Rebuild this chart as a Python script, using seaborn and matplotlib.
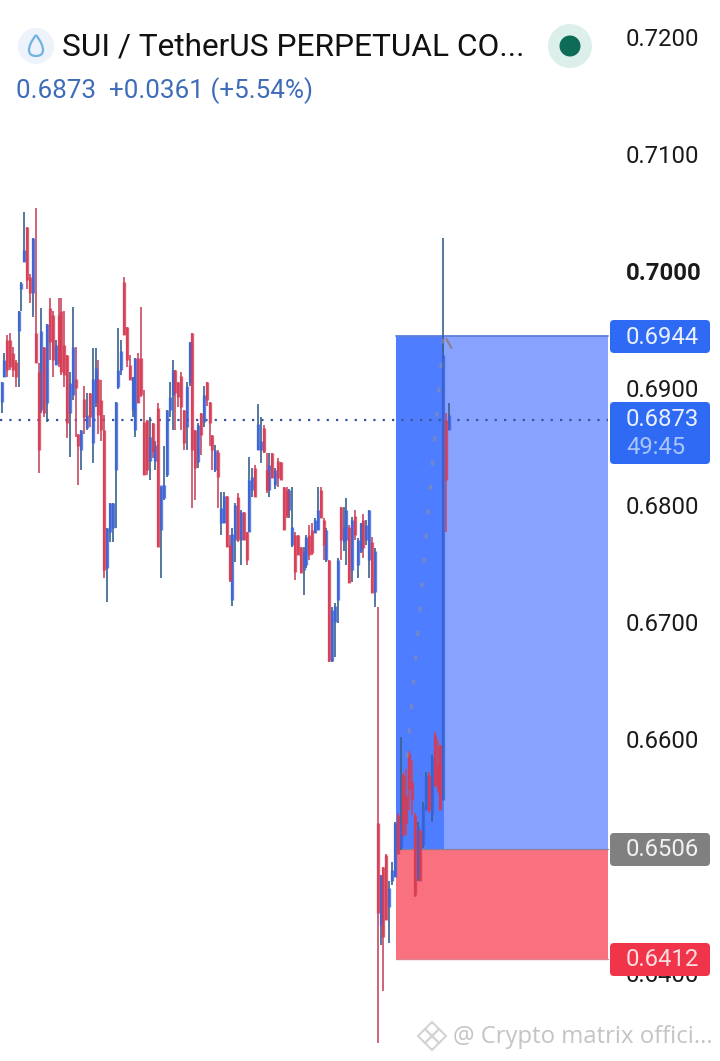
import numpy as np
import pandas as pd
import matplotlib
matplotlib.use("Agg")
import matplotlib.pyplot as plt
import seaborn as sns
from matplotlib.patches import Rectangle, FancyBboxPatch, Circle, PathPatch, Polygon
from matplotlib.path import Path
from matplotlib.transforms import Affine2D

# ---------- data ----------
high = [.6905,.6930,.6945,.6947,.6935,.6924,.6966,.6991,.7050,.7038,
        .6997,.7028,.7054,.6921,.6968,.6935,.6955,.6977,.6966,.6941,
        .6977,.6977,.6966,.6928,.6914,.6969,.6935,.6861,.6864,.6902,
        .6896,.6896,.6934,.6934,.6924,.6907,.6877,.6780,.6802,.6802,
        .6888,.6951,.6941,.6995,.6952,.6928,.6909,.6926,.6930,.6969,
        .6898,.6873,.6875,.6870,.6855,.6887,.6815,.6850,.6881,.6905,
        .6924,.6915,.6905,.6914,.6881,.6905,.6939,.6947,.6864,.6870,
        .6879,.6902,.6905,.6888,.6860,.6851,.6847,.6811,.6811,.6808,
        .6774,.6780,.6802,.6810,.6796,.6794,.6777,.6841,.6832,.6834,
        .6886,.6875,.6868,.6844,.6844,.6844,.6832,.6840,.6837,.6815,
        .6815,.6814,.6815,.6777,.6774,.6764,.6764,.6774,.6783,.6785,
        .6789,.6815,.6815,.6789,.6780,.6753,.6713,.6716,.6755,.6798,
        .6798,.6806,.6783,.6790,.6796,.6772,.6785,.6792,.6787,.6796,
        .6773,.6763,.6713,.6484,.6491,.6502,.6479,.6495,.6529,.6537,
        .6602,.6571,.6574,.6590,.6582,.6537,.6529,.6522,.6546,.6572,
        .6572,.6586,.6606,.6599,.6595,.7028,.6879,.6887]
low = [.6879,.6909,.6909,.6915,.6909,.6901,.6901,.6966,.7008,.6985,
       .6973,.6961,.6921,.6827,.6879,.6875,.6871,.6924,.6909,.6920,
       .6918,.6911,.6901,.6857,.6841,.6890,.6858,.6817,.6830,.6861,
       .6864,.6867,.6836,.6884,.6861,.6855,.6738,.6717,.6768,.6768,
       .6780,.6899,.6911,.6945,.6918,.6907,.6875,.6858,.6887,.6892,
       .6826,.6826,.6821,.6840,.6830,.6764,.6738,.6804,.6824,.6875,
       .6864,.6864,.6884,.6864,.6847,.6847,.6902,.6797,.6804,.6832,
       .6843,.6867,.6885,.6850,.6830,.6828,.6797,.6774,.6785,.6764,
       .6734,.6714,.6751,.6768,.6749,.6770,.6749,.6777,.6807,.6807,
       .6847,.6836,.6844,.6810,.6807,.6823,.6814,.6815,.6821,.6779,
       .6789,.6789,.6764,.6736,.6757,.6742,.6723,.6746,.6753,.6757,
       .6776,.6779,.6789,.6753,.6751,.6666,.6666,.6670,.6699,.6753,
       .6761,.6749,.6733,.6734,.6770,.6738,.6759,.6755,.6766,.6738,
       .6725,.6713,.6340,.6424,.6385,.6445,.6426,.6475,.6482,.6502,
       .6505,.6516,.6518,.6539,.6535,.6465,.6479,.6479,.6507,.6539,
       .6537,.6529,.6559,.6554,.6539,.6548,.6777,.6864]
open_ = [.6888,.6909,.6941,.6941,.6930,.6922,.6949,.6985,.7008,.7038,
         .6995,.6981,.6947,.6914,.6881,.6935,.6887,.6968,.6962,.6920,
         .6962,.6966,.6937,.6928,.6879,.6894,.6908,.6861,.6847,.6891,
         .6866,.6896,.6853,.6887,.6908,.6890,.6864,.6746,.6777,.6780,
         .6830,.6901,.6915,.6991,.6952,.6920,.6881,.6864,.6926,.6926,
         .6871,.6873,.6838,.6870,.6838,.6883,.6779,.6806,.6826,.6881,
         .6894,.6915,.6905,.6910,.6881,.6867,.6904,.6947,.6864,.6837,
         .6879,.6871,.6905,.6888,.6860,.6830,.6845,.6785,.6785,.6808,
         .6766,.6719,.6770,.6807,.6770,.6794,.6777,.6777,.6813,.6832,
         .6847,.6847,.6866,.6830,.6813,.6844,.6817,.6838,.6837,.6815,
         .6813,.6796,.6766,.6774,.6774,.6764,.6744,.6749,.6774,.6779,
         .6776,.6779,.6813,.6787,.6753,.6753,.6667,.6700,.6719,.6798,
         .6768,.6770,.6781,.6744,.6791,.6749,.6761,.6787,.6770,.6753,
         .6768,.6726,.6528,.6441,.6491,.6501,.6456,.6479,.6482,.6535,
         .6508,.6569,.6552,.6588,.6563,.6535,.6481,.6522,.6509,.6539,
         .6569,.6535,.6603,.6578,.6595,.6548,.6873,.6864]
close = [.6905,.6924,.6915,.6918,.6915,.6909,.6966,.6990,.7018,.6992,
         .6981,.7028,.6921,.6847,.6949,.6879,.6955,.6939,.6924,.6937,
         .6921,.6914,.6911,.6870,.6904,.6935,.6900,.6850,.6864,.6875,
         .6877,.6875,.6908,.6917,.6877,.6864,.6744,.6780,.6802,.6802,
         .6888,.6915,.6932,.6945,.6924,.6907,.6909,.6926,.6887,.6894,
         .6826,.6830,.6858,.6845,.6851,.6764,.6817,.6817,.6881,.6892,
         .6915,.6896,.6892,.6884,.6853,.6902,.6939,.6847,.6832,.6868,
         .6860,.6894,.6890,.6870,.6847,.6847,.6824,.6797,.6808,.6764,
         .6736,.6775,.6800,.6770,.6794,.6770,.6753,.6821,.6824,.6807,
         .6869,.6855,.6845,.6813,.6834,.6823,.6830,.6823,.6821,.6779,
         .6791,.6813,.6781,.6743,.6757,.6742,.6761,.6773,.6757,.6759,
         .6787,.6796,.6789,.6766,.6779,.6667,.6710,.6714,.6753,.6770,
         .6781,.6796,.6733,.6787,.6774,.6770,.6785,.6763,.6783,.6796,
         .6725,.6761,.6451,.6484,.6431,.6445,.6473,.6488,.6528,.6502,
         .6528,.6518,.6528,.6557,.6548,.6467,.6526,.6479,.6543,.6569,
         .6539,.6584,.6561,.6557,.6539,.6928,.6821,.6877]

y_ticks = [0.72, 0.71, 0.70, 0.69, 0.68, 0.67, 0.66, 0.64]
y_labels = ["0.7200", "0.7100", "0.7000", "0.6900", "0.6800", "0.6700", "0.6600", "0.6400"]
last_price, target_price, entry_price, stop_price = 0.6873, 0.6944, 0.6506, 0.6412
tool_start, tool_mid, tool_end = 138.4, 155.2, 212.8
path_x = [142.3, 155.3]
path_y = [0.6584, 0.6950]
head_x = [156.1, 157.9]
head_y = [0.6942, 0.6934]

title = "SUI / TetherUS PERPETUAL CO..."
subtitle = "0.6873  +0.0361 (+5.54%)"
timer = "49:45"
watermark = "@ Crypto matrix offici..."

# ---------- frame ----------
W, H = 720, 1061
sns.set_theme(style="white")
plt.rcParams["font.family"] = ["Roboto", "DejaVu Sans"]
fig = plt.figure(figsize=(W / 100, H / 100), dpi=100, facecolor="white")
ax = fig.add_axes([0, 0, 1, 1])
ax.set_xlim(-1.5 / 2.85, (W - 1.5) / 2.85)
ax.set_ylim(0.72316 - H / 11700, 0.72316)
for s in ax.spines.values():
    s.set_visible(False)
ax.set_xticks([])

# pixel helper for furniture that is not data (y measured from the top)
px = Affine2D().scale(1 / W, -1 / H).translate(0, 1) + ax.transAxes

# ---------- position tool ----------
ax.add_patch(Rectangle((tool_start, entry_price), tool_mid - tool_start, target_price - entry_price,
                       fc="#4f7dff", ec="none", zorder=1))
ax.add_patch(Rectangle((tool_mid, entry_price), tool_end - tool_mid, target_price - entry_price,
                       fc="#87a3ff", ec="none", zorder=1))
ax.add_patch(Rectangle((tool_start, stop_price), tool_end - tool_start, entry_price - stop_price,
                       fc="#f9707f", ec="none", zorder=1))
ax.plot([tool_start, tool_end], [target_price] * 2, color="#5f80d8", lw=1.3, zorder=1.2)
ax.plot([tool_start, tool_end], [stop_price] * 2, color="#e2808c", lw=1, zorder=1.2)
ax.plot([tool_start, tool_end], [entry_price] * 2, color="#8a7f9a", lw=0.9, zorder=1.2)

# last price line
ax.plot([ax.get_xlim()[0], tool_end], [last_price] * 2, color="#35569c", lw=1.6,
        ls=(0, (1, 3.2)), zorder=1.5)

# ---------- candles ----------
n = len(high)
idx = np.arange(n)
direction = np.where(np.array(close) >= np.array(open_), "up", "down")
wicks = pd.DataFrame({
    "candle": np.r_[idx, idx],
    "price": np.r_[high, low],
    "dir": np.r_[direction, direction],
})
bodies = pd.DataFrame({
    "candle": np.r_[idx, idx],
    "price": np.r_[open_, close],
    "dir": np.r_[direction, direction],
})
sns.lineplot(data=wicks, x="candle", y="price", hue="dir", units="candle", estimator=None,
             palette={"up": "#35608e", "down": "#c9465f"}, lw=1.25, alpha=0.95, legend=False,
             ax=ax, zorder=3, solid_capstyle="butt")
sns.lineplot(data=bodies, x="candle", y="price", hue="dir", units="candle", estimator=None,
             palette={"up": "#3a62dc", "down": "#d63a52"}, lw=2.4, alpha=0.8, legend=False,
             ax=ax, zorder=3.2, solid_capstyle="butt")
ax.set_xlabel("")
ax.set_ylabel("")

# projected path
ax.plot(path_x, path_y, color="#8f8f9f", alpha=0.6, lw=2.2, ls=(0, (1.6, 6.4)), zorder=3.5)
ax.plot(head_x, head_y, color="#8c7b88", lw=1.6, alpha=0.9, zorder=3.5)

# ---------- price axis ----------
ax.yaxis.tick_right()
ax.set_yticks(y_ticks)
ax.set_yticklabels(y_labels)
ax.tick_params(axis="y", length=0, pad=-67.7, labelsize=17.2, labelcolor="#1a1a1a")
for lab in ax.get_yticklabels():
    lab.set_ha("left")
    if lab.get_text() == "0.7000":
        lab.set_fontweight("bold")

def badge(top, bottom, color):
    ax.add_patch(FancyBboxPatch((610, top), 100, bottom - top,
                                boxstyle="round,pad=0,rounding_size=4", mutation_aspect=1,
                                fc=color, ec="none", transform=px, zorder=6, clip_on=False))

badge(320, 353, "#2f6af5")
badge(402, 464, "#2f6af5")
badge(833, 866, "#808080")
badge(943, 976, "#f0344a")
for y_px, txt, col in [(337, "0.6944", "#eaf0ff"), (420, "0.6873", "#eaf0ff"), (448, timer, "#a9c3fb"),
                       (850, "0.6506", "#f2f2f2"), (960, "0.6412", "#fbdde0")]:
    ax.text(626, y_px, txt, transform=px, color=col, fontsize=17.2, va="center", ha="left", zorder=7)

# ---------- header ----------
ax.add_patch(Circle((36, 46), 18, transform=px, fc="#eef3fb", ec="none", zorder=6))
drop = Path([(36, 35), (29, 44), (29, 50), (29, 56), (36, 56), (43, 56), (43, 50), (43, 44), (36, 35)],
            [Path.MOVETO, Path.CURVE3, Path.CURVE3, Path.CURVE3, Path.CURVE3,
             Path.CURVE3, Path.CURVE3, Path.CURVE3, Path.CURVE3])
ax.add_patch(PathPatch(drop, transform=px, fc="none", ec="#6fb3e3", lw=1.6, zorder=7))
ax.text(62, 47, title, transform=px, fontsize=22.8, color="#111111", va="center", ha="left", zorder=7)
ax.text(16, 91, subtitle, transform=px, fontsize=18.7, color="#3f6cb8", va="center", ha="left", zorder=7)
ax.add_patch(Circle((570, 46), 22, transform=px, fc="#dcefeb", ec="none", zorder=6))
ax.add_patch(Circle((570, 46), 10.5, transform=px, fc="#0e6b58", ec="none", zorder=7))

# ---------- watermark ----------
for cx, cy in [(432, 1029), (425, 1036), (439, 1036), (432, 1043)]:
    ax.add_patch(Polygon([(cx, cy - 7), (cx + 7, cy), (cx, cy + 7), (cx - 7, cy)], closed=True,
                         transform=px, fc="none", ec="#d4d4d4", lw=1.5, zorder=7))
ax.text(453, 1037, watermark, transform=px, family=["Open Sans", "DejaVu Sans"], fontsize=17.2,
        color="#c4c4c4", va="center", ha="left", zorder=7)

fig.savefig("out.png", dpi=100, facecolor="white")
